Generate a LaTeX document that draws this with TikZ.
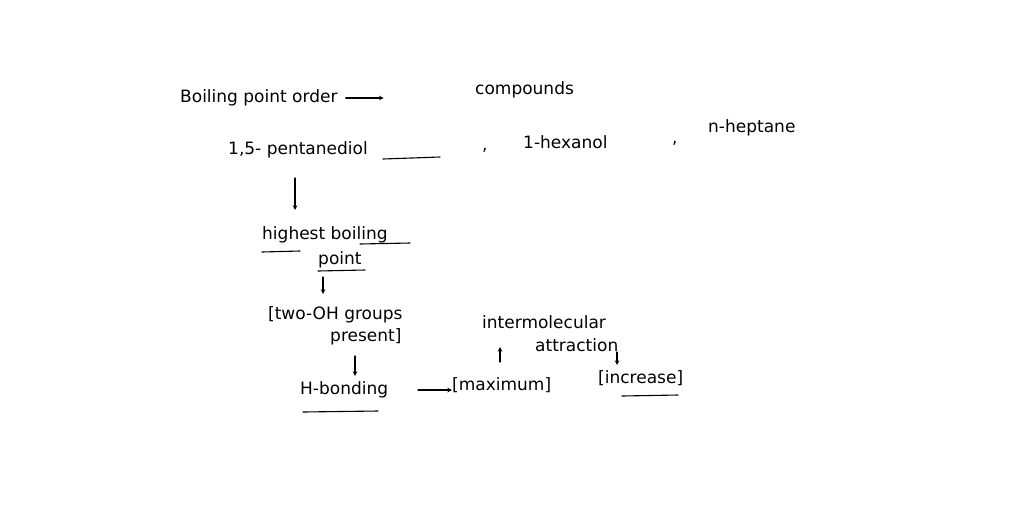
\documentclass[tikz,border=0pt]{standalone}
\usepackage{fontspec}
\setmainfont{DejaVu Sans}
\begin{document}
\begin{tikzpicture}[x=1pt,y=-1pt,
  txt/.style={inner sep=0pt,font=\fontsize{17}{20}\selectfont,anchor=west},
  ln/.style={line width=1.1pt,line cap=round},
  arr/.style={ln,-stealth}]
\useasboundingbox (0,0) rectangle (1024,512);
\node[txt] (bp) at (180,98) {Boiling point order};
\node[txt] (cp) at (475,90) {compounds};
\draw[arr] (bp.east)+(8,0) coordinate (a1) -- ++(46,0) coordinate (a2);
\node[txt] (pd) at (228,150) {1,5- pentanediol};
\node[txt] (c1) at (482,150) {,};
\node[txt] (hx) at (523,142) {1-hexanol};
\node[txt] (c2) at (672,143) {,};
\node[txt] (hp) at (708,128) {n-heptane};
\draw[ln] (383,159) -- (440,157);
\coordinate (d1) at (295,178); \coordinate (d2) at (295,210);
\draw[arr] (d1) -- (d2);
\node[txt] (hb) at (262,235) {highest boiling};
\draw[ln] (262,252) -- (300,251);
\draw[ln] (360,244) -- (410,243);
\node[txt] (pt) at (318,260) {point};
\draw[ln] (318,271) -- (365,270);
\coordinate (d3) at (323,277); \coordinate (d4) at (323,294);
\draw[arr] (d3) -- (d4);
\node[txt] (tw) at (268,315) {[two-OH groups};
\node[txt] (pr) at (330,337) {present]};
\coordinate (d5) at (355,356); \coordinate (d6) at (355,376);
\draw[arr] (d5) -- (d6);
\node[txt] (hbd) at (300,390) {H-bonding};
\draw[ln] (303,412) -- (378,411);
\coordinate (d7) at (418,390); \coordinate (d8) at (452,390);
\draw[arr] (d7) -- (d8);
\node[txt] (mx) at (452,385) {[maximum]};
\node[txt] (inc) at (598,378) {[increase]};
\draw[ln] (622,396) -- (678,395);
\node[txt] (im) at (482,322) {intermolecular};
\node[txt] (at) at (535,345) {attraction};
\coordinate (d9) at (500,362); \coordinate (d10) at (500,347);
\draw[arr] (d9) -- (d10);
\coordinate (d11) at (617,352); \coordinate (d12) at (617,365);
\draw[arr] (d11) -- (d12);
\end{tikzpicture}
\end{document}
